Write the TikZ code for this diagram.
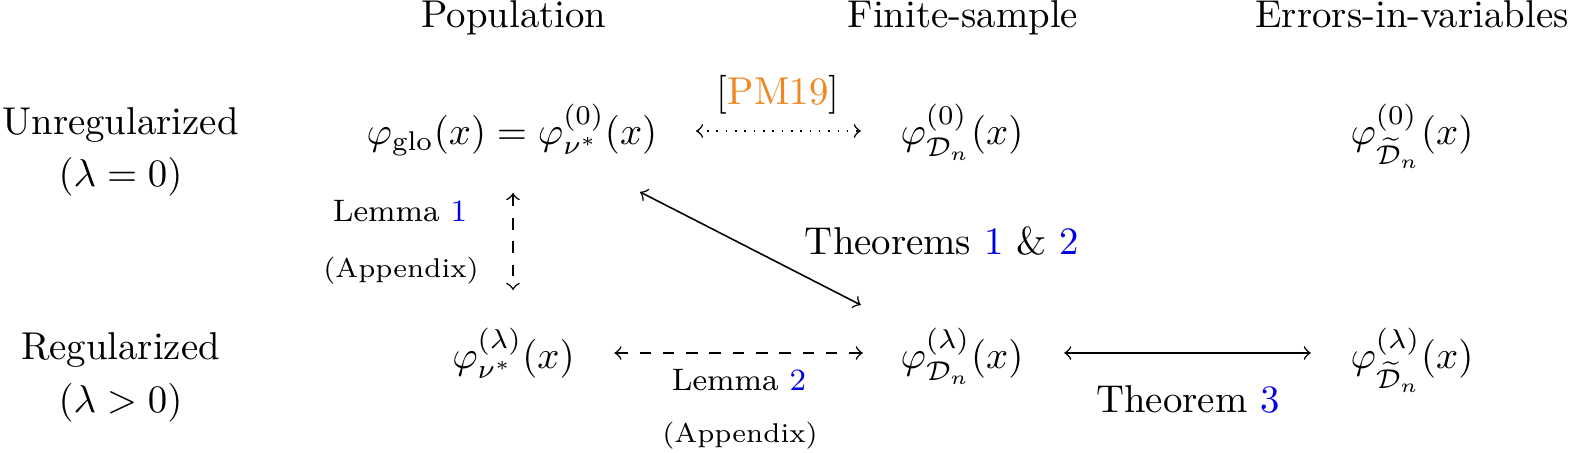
\documentclass[tikz,border=0pt]{standalone}
\usepackage{amsmath}
\usetikzlibrary{calc}
\definecolor{citeorange}{RGB}{240,135,35}
\definecolor{refblue}{RGB}{0,0,230}
\begin{document}
\begin{tikzpicture}[x=0.2577pt,y=-0.2577pt,
  lbl/.style={anchor=base,inner sep=0pt},
  fn/.style={anchor=base,inner sep=0pt},
  lemlbl/.style={anchor=base,inner sep=0pt,font=\footnotesize},
  applbl/.style={anchor=base,inner sep=0pt,font=\scriptsize},
  conn/.style={<->,line width=0.4pt}]
\useasboundingbox (0,0) rectangle (1574,453);
% column headers
\node[lbl] (hpop) at (514,28) {Population};
\node[lbl] (hfin) at (963,28) {Finite-sample};
\node[lbl] (herr) at (1412,28) {Errors-in-variables};
% row headers
\node[lbl] (hun) at (120.5,135) {Unregularized};
\node[lbl] (hunl) at (120.5,187) {$(\lambda = 0)$};
\node[lbl] (hre) at (120.5,360) {Regularized};
\node[lbl] (hrel) at (120.5,413) {$(\lambda > 0)$};
% formulas
\node[fn] (a) at (512,145) {$\varphi_{\mathrm{glo}}(x) = \varphi^{(0)}_{\nu^*}(x)$};
\node[fn] (b) at (962,145) {$\varphi^{(0)}_{\mathcal{D}_n}(x)$};
\node[fn] (c) at (1412,145) {$\varphi^{(0)}_{\widetilde{\mathcal{D}}_n}(x)$};
\node[fn] (d) at (513.5,369) {$\varphi^{(\lambda)}_{\nu^*}(x)$};
\node[fn] (e) at (962,369) {$\varphi^{(\lambda)}_{\mathcal{D}_n}(x)$};
\node[fn] (f) at (1412,369) {$\varphi^{(\lambda)}_{\widetilde{\mathcal{D}}_n}(x)$};
% connectors
\draw[conn,dotted] ($(a.base east)+(38,-14)$) -- ($(b.base west)+(-39,-14)$);
\draw[conn,dashed] ($(a.base)+(1,48)$) -- ($(d.base)+(-0.5,-79)$);
\draw[conn] ($(a.base east)+(-18,47)$) -- ($(e.base west)+(-39,-64)$);
\draw[conn,dashed] ($(d.base east)+(39,-16)$) -- ($(e.base west)+(-37,-16)$);
\draw[conn] ($(e.base east)+(40,-16)$) -- ($(f.base west)+(-39,-16)$);
% labels
\node[lbl] (lpm) at (778,105) {[\textcolor{citeorange}{PM19}]};
\node[lemlbl] (l1) at (400,222) {Lemma \textcolor{refblue}{1}};
\node[applbl] (l1a) at (401,278) {(Appendix)};
\node[lbl] (t12) at (942,255) {Theorems \textcolor{refblue}{1} \& \textcolor{refblue}{2}};
\node[lemlbl] (l2) at (739,391) {Lemma \textcolor{refblue}{2}};
\node[applbl] (l2a) at (740,443) {(Appendix)};
\node[lbl] (t3) at (1188,413) {Theorem \textcolor{refblue}{3}};
\end{tikzpicture}
\end{document}
